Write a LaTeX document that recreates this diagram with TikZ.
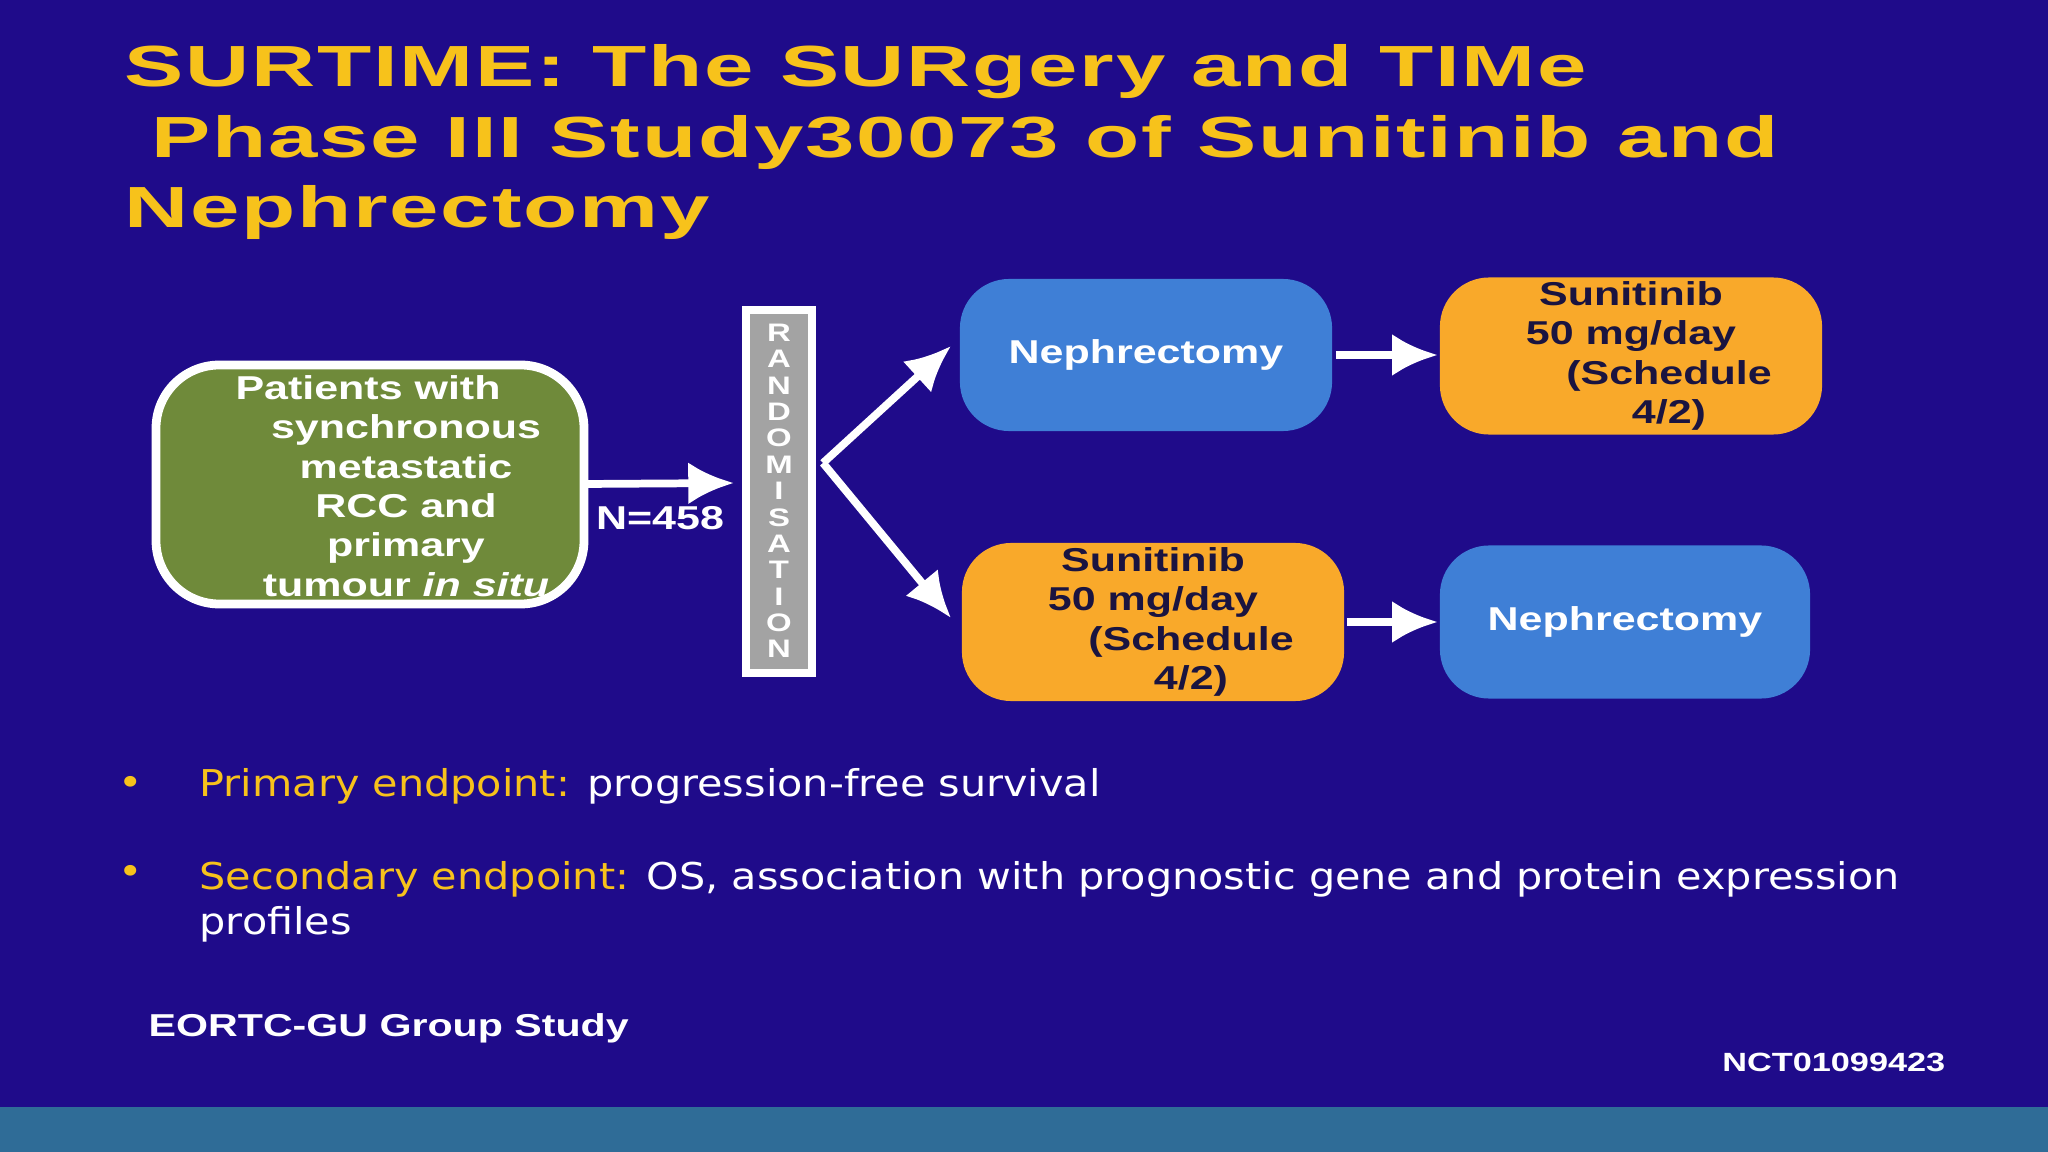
\documentclass[tikz,border=0pt]{standalone}
\usepackage{fontspec}
\setmainfont{Liberation Sans}[FakeStretch=1.3]
\newfontfamily\titlefont{Liberation Sans}[FakeStretch=1.53,LetterSpace=3]
\newfontfamily\bodyfont{DejaVu Sans}[FakeStretch=1.12]
\usetikzlibrary{arrows.meta}
\definecolor{bg}{HTML}{1F0B8A}
\definecolor{ttl}{HTML}{F7C21B}
\definecolor{grn}{HTML}{6F8A3A}
\definecolor{blu}{HTML}{3F7FD6}
\definecolor{org}{HTML}{F9A92A}
\definecolor{gry}{HTML}{A3A3A3}
\definecolor{strip}{HTML}{2F6C97}
\definecolor{dk}{HTML}{1A1440}
\begin{document}
\begin{tikzpicture}[x=0.01cm,y=-0.01cm,
  box/.style={rounded corners=14pt,align=center,text=white,font=\bfseries\fontsize{9.4}{11.2}\selectfont,inner sep=0pt},
  arr/.style={white,line width=2.2pt,-{Latex[length=13pt,width=12pt]}}]
\fill[bg] (0,0) rectangle (2048,1152);
\fill[strip] (0,1107) rectangle (2048,1152);
\useasboundingbox (0,0) rectangle (2048,1152);
% title
\node[anchor=north west,text=ttl,font=\titlefont\bfseries\fontsize{16.5}{20}\selectfont,align=left,inner sep=0pt] (title) at (124,44)
 {SURTIME: The SURgery and TIMe\\ \ Phase III Study30073 of Sunitinib and\\Nephrectomy};
% boxes
\draw[grn,fill=grn,rounded corners=18pt] (156,365) rectangle (584,604);
\draw[white,line width=2.5pt,rounded corners=18pt] (156,365) rectangle (584,604);
\node[text=white,font=\bfseries\fontsize{9.4}{11.2}\selectfont,align=center,inner sep=0pt] (pat) at (406,486)
 {Patients with\hspace*{21.6pt}\\synchronous\\metastatic\\RCC and\\primary\\tumour \textit{in situ}};
\coordinate (patE) at (584,484);
\draw[white,fill=gry,line width=2pt] (746,310) rectangle (812,673);
\node[text=white,font=\bfseries\fontsize{7.2}{7.5}\selectfont,align=center,inner sep=0pt] (rand) at (779,491)
 {R\\A\\N\\D\\O\\M\\I\\S\\A\\T\\I\\O\\N};
\coordinate (randW) at (734,483);
\coordinate (fork) at (823,463);
\node[box,fill=blu,minimum width=372pt*0.2845,minimum height=152pt*0.2845] (n1) at (1146,355) {\raisebox{-1.5pt}{Nephrectomy}};
\node[box,fill=org,text=dk,minimum width=382pt*0.2845,minimum height=157pt*0.2845] (s1) at (1631,356) {Sunitinib\\50 mg/day\\\hspace*{21.6pt}(Schedule\\\hspace*{21.6pt}4/2)};
\node[box,fill=org,text=dk,minimum width=382pt*0.2845,minimum height=158pt*0.2845] (s2) at (1153,622) {Sunitinib\\50 mg/day\\\hspace*{21.6pt}(Schedule\\\hspace*{21.6pt}4/2)};
\node[box,fill=blu,minimum width=370pt*0.2845,minimum height=153pt*0.2845] (n2) at (1625,622) {\raisebox{-1.5pt}{Nephrectomy}};
% arrows
\draw[arr] (patE) -- (randW);
\node[text=white,font=\bfseries\fontsize{9.4}{11}\selectfont,inner sep=0pt] (N) at (660,518) {N=458};
\draw[arr] (fork) -- (951,346);
\draw[arr] (fork) -- (951,618);
\draw[arr] (n1.east) ++(3,0) -- ++(102,0);
\draw[arr] (s2.east) ++(2,0) -- ++(91,0);
% bullets
\node[text=ttl,font=\bodyfont\fontsize{10.5}{11}\selectfont,inner sep=0pt] (b1) at (131,786) {•};
\node[anchor=west,font=\bodyfont\fontsize{10.5}{11}\selectfont,inner sep=0pt,text=white] (t1) at (199,786) {\textcolor{ttl}{Primary endpoint:} progression-free survival};
\node[text=ttl,font=\bodyfont\fontsize{10.5}{11}\selectfont,inner sep=0pt] (b2) at (131,875) {•};
\node[anchor=north west,font=\bodyfont\fontsize{10.5}{12.7}\selectfont,inner sep=0pt,text=white,align=left] (t2) at (199,861) {\textcolor{ttl}{Secondary endpoint:} OS, association with prognostic gene and protein expression\\profiles};
\node[anchor=west,text=white,font=\bfseries\fontsize{9}{11}\selectfont,inner sep=0pt] (eortc) at (148,1028) {EORTC-GU Group Study};
\node[anchor=east,text=white,font=\bfseries\fontsize{7.5}{9}\selectfont,inner sep=0pt] (nct) at (1946,1062) {NCT01099423};
\end{tikzpicture}
\end{document}
